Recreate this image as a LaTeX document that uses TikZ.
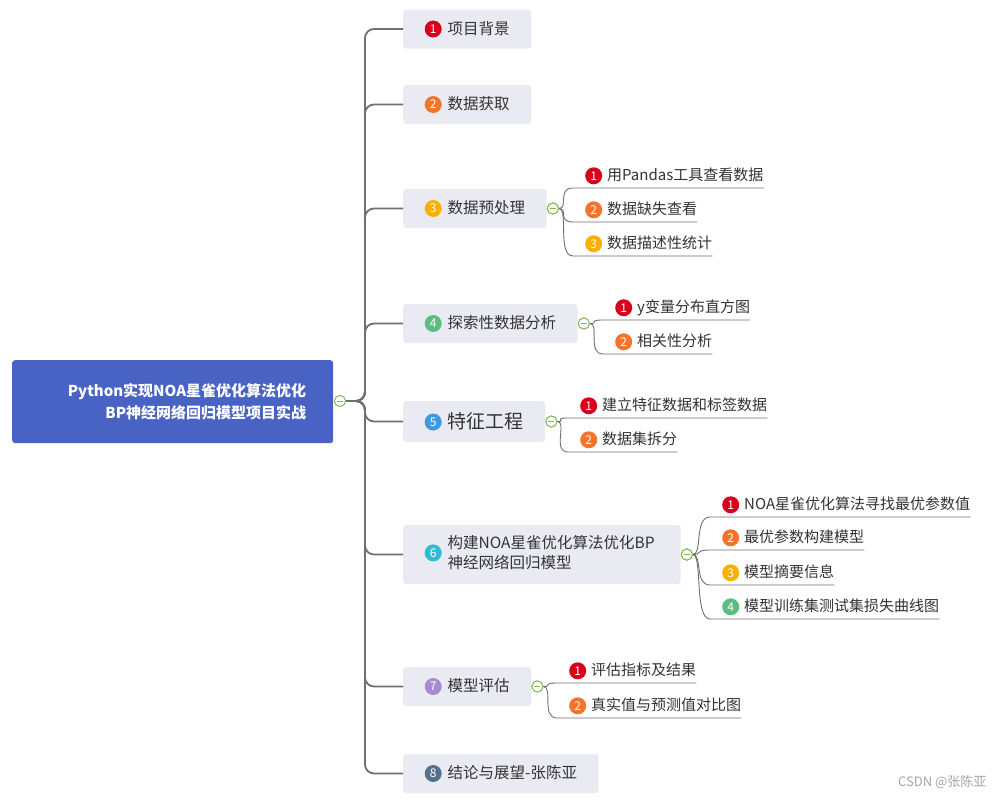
\documentclass[tikz,border=0pt]{standalone}
\usepackage{fontspec}
\setmainfont{Noto Sans CJK SC}
\definecolor{cA}{HTML}{D9001B}
\definecolor{cB}{HTML}{F6732A}
\definecolor{cC}{HTML}{FBB000}
\definecolor{cD}{HTML}{5BBD7F}
\definecolor{cE}{HTML}{3C9AE0}
\definecolor{cF}{HTML}{2DBDD3}
\definecolor{cG}{HTML}{A58BD0}
\definecolor{cH}{HTML}{56708C}
\definecolor{rootblue}{HTML}{4863C4}
\definecolor{boxgray}{HTML}{EAEAF2}
\definecolor{txt}{HTML}{333333}
\definecolor{linegray}{HTML}{707070}
\definecolor{collgreen}{HTML}{7FB84A}
\newcommand{\bdg}[2]{\tikz[baseline=-0.62ex]\node[anchor=center,circle,fill=#1,text=white,inner sep=0pt,minimum size=17pt,font=\fontsize{12}{12}\selectfont]{#2};}
\tikzset{
  x=1pt,y=-1pt,
  mbox/.style={fill=boxgray,rounded corners=3pt,anchor=west,inner xsep=21.5pt,minimum height=39pt,text=txt,font=\fontsize{15.5}{20}\selectfont,align=left},
  sub/.style={anchor=south west,inner xsep=0pt,inner ysep=3.5pt,text=txt,font=\fontsize{15}{18}\selectfont},
  coll/.style={circle,draw=collgreen,fill=white,line width=0.8pt,minimum size=11pt,inner sep=0pt,path picture={\draw[collgreen,line width=0.8pt] ([xshift=-3pt]path picture bounding box.center) -- ([xshift=3pt]path picture bounding box.center);}},
  trunk/.style={draw=linegray,line width=1.8pt,rounded corners=9pt},
  branch/.style={draw=linegray,line width=0.9pt},
}
\begin{document}
\begin{tikzpicture}
\useasboundingbox[fill=white] (0,0) rectangle (994,801);
\node[fill=rootblue,rounded corners=3pt,minimum width=321pt,minimum height=83pt,text width=267pt,inner xsep=27pt,align=right,text=white,font=\bfseries\fontsize{15}{22}\selectfont,anchor=north west] (root) at (12,360) {Python实现NOA星雀优化算法优化\\BP神经网络回归模型项目实战};
\node[mbox] (m1) at (403,29) {\bdg{cA}{1}\hspace{6pt}项目背景};
\node[mbox] (m2) at (403,104.5) {\bdg{cB}{2}\hspace{6pt}数据获取};
\node[mbox] (m3) at (403,208.5) {\bdg{cC}{3}\hspace{6pt}数据预处理};
\node[mbox] (m4) at (403,323.5) {\bdg{cD}{4}\hspace{6pt}探索性数据分析};
\node[mbox,minimum height=41pt,font=\fontsize{19}{22}\selectfont] (m5) at (403,421.5) {\bdg{cE}{5}\hspace{6pt}特征工程};
\node[mbox,minimum height=59pt,inner xsep=0pt] (m6) at (403,554.5) {\hspace{21.5pt}\bdg{cF}{6}\hspace{6pt}\begin{tabular}[c]{@{}l@{}}构建NOA星雀优化算法优化BP\\神经网络回归模型\end{tabular}\hspace{26pt}};
\node[mbox] (m7) at (403,686.5) {\bdg{cG}{7}\hspace{6pt}模型评估};
\node[mbox] (m8) at (403,773.5) {\bdg{cH}{8}\hspace{6pt}结论与展望-张陈亚};
% trunk
\node[coll] (rc) at (340,401) {};
\foreach \m/\y in {m1/29,m2/104.5,m3/208.5,m4/323.5,m5/421.5,m6/554.5,m7/686.5,m8/773.5}
  \draw[trunk] (rc.east) -| (365,\y) -- (\m.west);
\node[coll] at (rc) {};
% collapse circles
\node[coll] (c3) at ([xshift=6pt]m3.east) {};
\node[coll] (c4) at ([xshift=6pt]m4.east) {};
\node[coll] (c5) at ([xshift=6pt]m5.east) {};
\node[coll] (c6) at ([xshift=6pt]m6.east) {};
\node[coll] (c7) at ([xshift=6pt]m7.east) {};
% sub items
\foreach \c/\n/\x/\y/\col/\k/\t in {
 c3/t31/585/188/cA/1/用Pandas工具查看数据,
 c3/t32/585/222/cB/2/数据缺失查看,
 c3/t33/585/256/cC/3/数据描述性统计,
 c4/t41/615/320/cA/1/y变量分布直方图,
 c4/t42/615/354/cB/2/相关性分析,
 c5/t51/580/418/cA/1/建立特征数据和标签数据,
 c5/t52/580/452/cB/2/数据集拆分,
 c6/t61/722/517/cA/1/NOA星雀优化算法寻找最优参数值,
 c6/t62/722/550/cB/2/最优参数构建模型,
 c6/t63/722/585/cC/3/模型摘要信息,
 c6/t64/722/619/cD/4/模型训练集测试集损失曲线图,
 c7/t71/569/683/cA/1/评估指标及结果,
 c7/t72/569/718/cB/2/真实值与预测值对比图}
{
 \node[sub] (\n) at (\x,\y) {\bdg{\col}{\k}\hspace{5pt}\t\hspace{13pt}};
 \coordinate (s\n) at (\x-12,\y);
 \draw[branch] (\c.east) .. controls +(10,0) and +(-16,0) .. (s\n) -- (\n.south east);
 \node[coll] at (\c) {};
}
\node[text=black!35,font=\fontsize{13}{15}\selectfont,anchor=east] (wm) at (990,782) {CSDN @张陈亚};
\end{tikzpicture}
\end{document}
